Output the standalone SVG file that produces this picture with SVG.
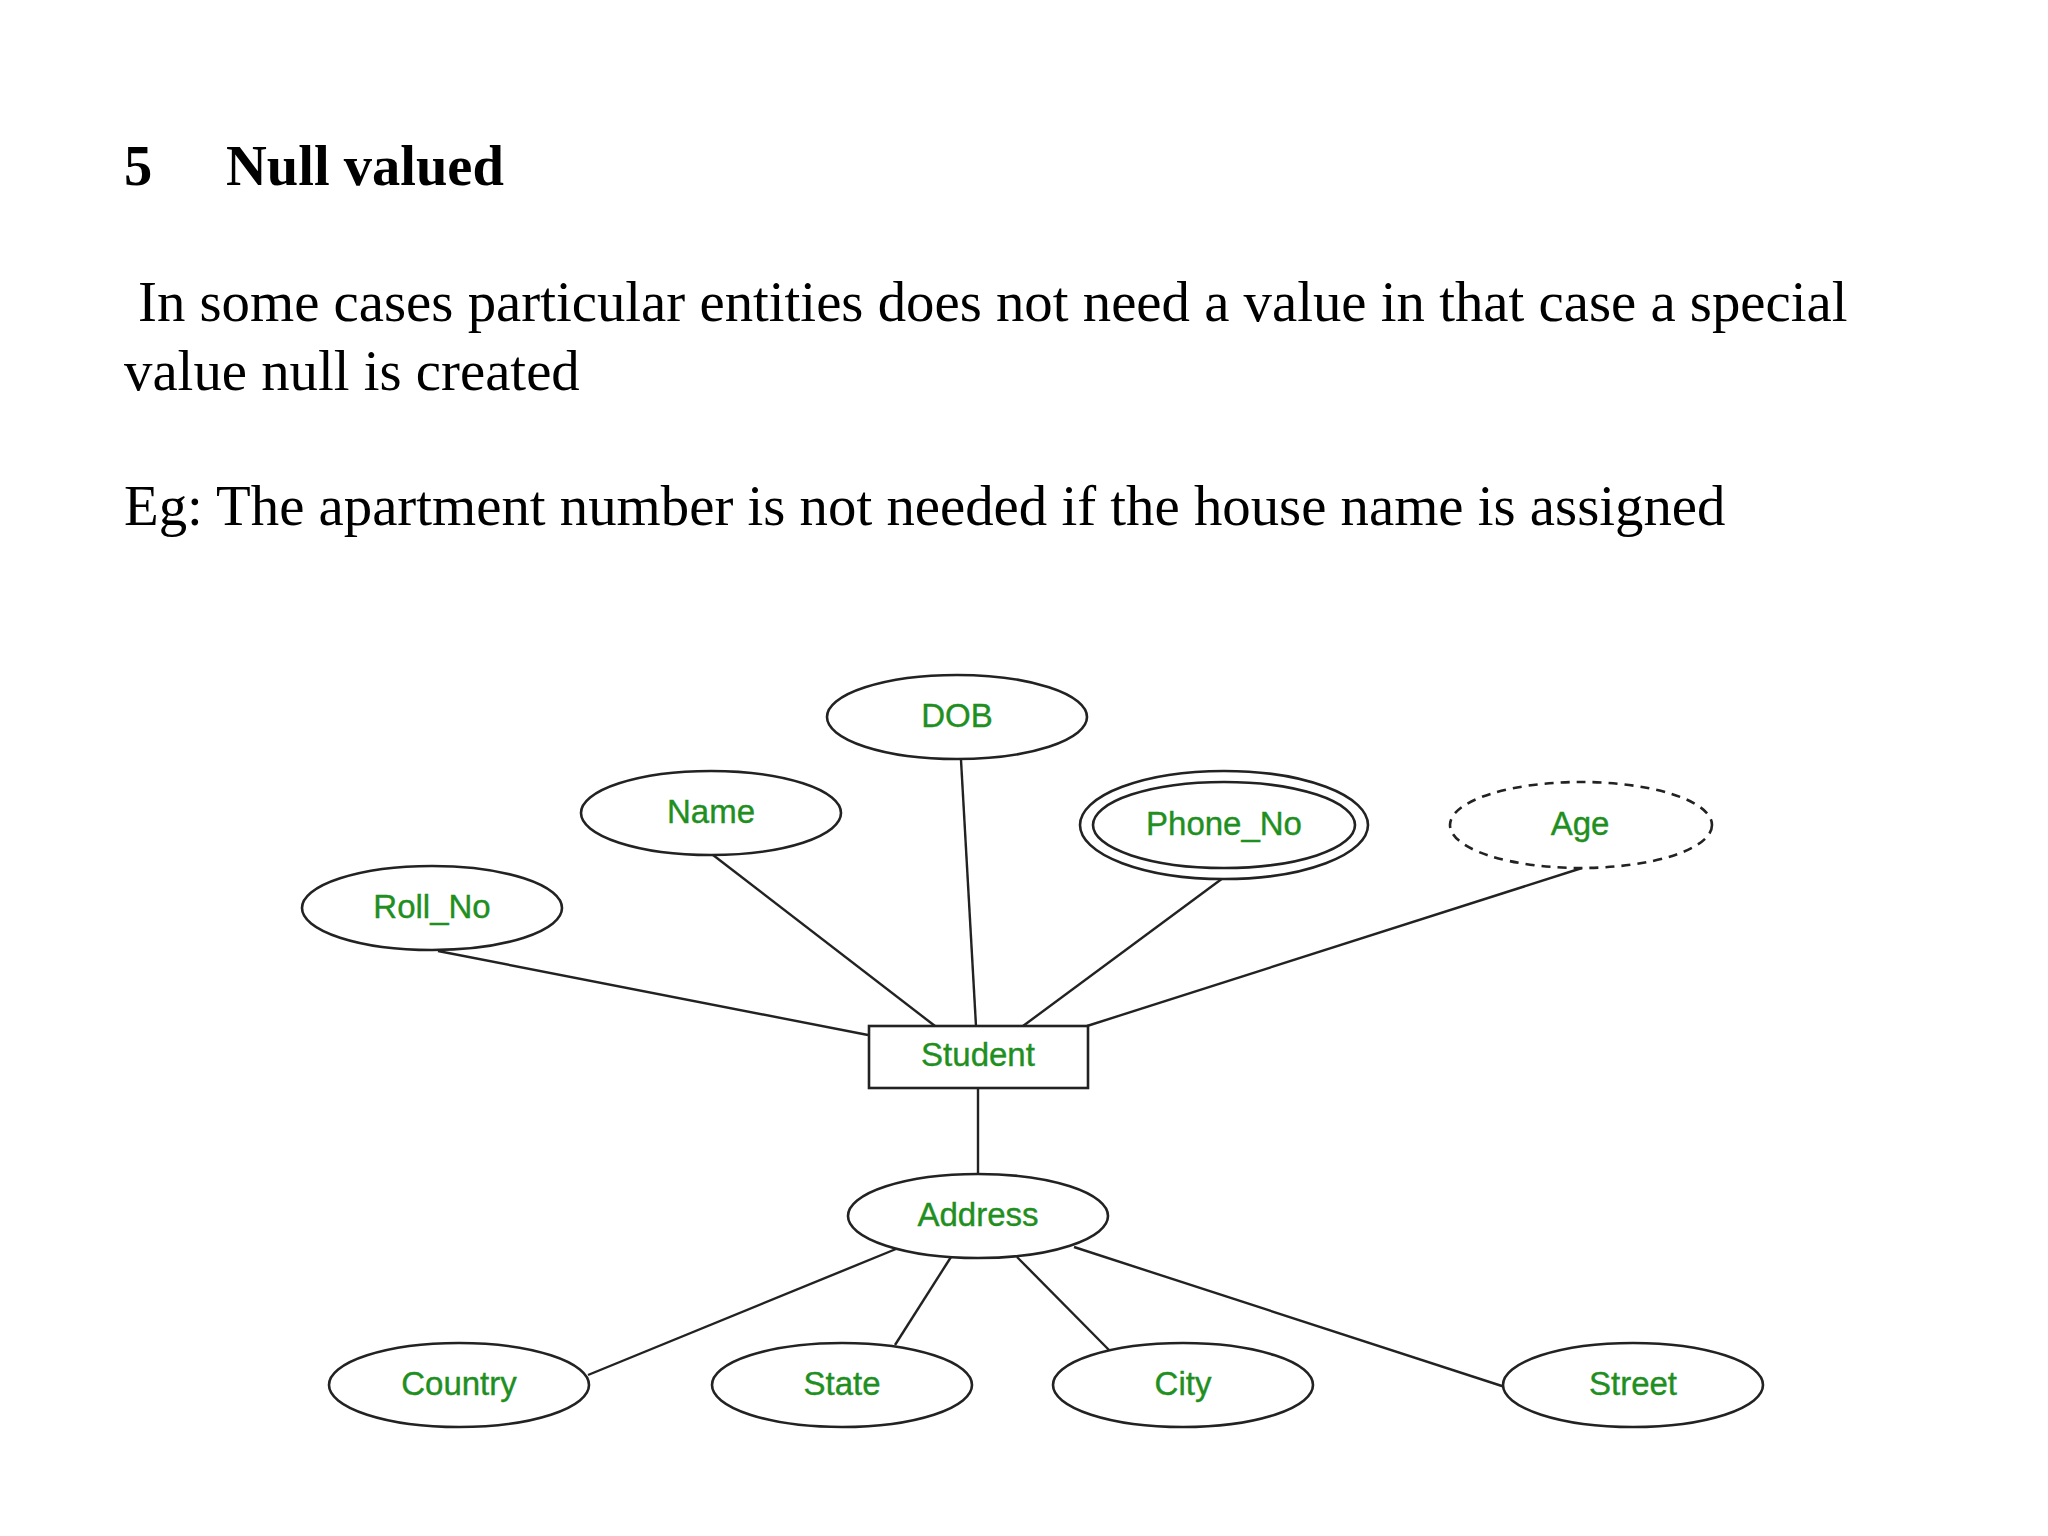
<svg xmlns="http://www.w3.org/2000/svg" width="2048" height="1536" viewBox="0 0 2048 1536">
<style>
.title{font-family:"Liberation Serif","Times New Roman",serif;font-size:56.5px;font-weight:bold;fill:#000}
.body{font-family:"Liberation Serif","Times New Roman",serif;font-size:56.8px;fill:#000}
.attr{fill:#fff;stroke:#222;stroke-width:2.6}
.lbl{font-family:"Liberation Sans",Arial,sans-serif;font-size:33px;fill:#1f8f1f;stroke:#1f8f1f;stroke-width:0.4;text-anchor:middle}
.conn line{stroke:#222;stroke-width:2.4}
</style>
<rect width="2048" height="1536" fill="#fff"/>
<g id="heading">
<text class="title" x="124" y="185">5</text>
<text class="title" x="226" y="185">Null valued</text>
</g>
<g id="paragraph">
<text class="body" x="138" y="321">In some cases particular entities does not need a value in that case a special</text>
<text class="body" x="124" y="390">value null is created</text>
<text class="body" x="124" y="525">Eg: The apartment number is not needed if the house name is assigned</text>
</g>
<g id="connectors" class="conn">
<line x1="438" y1="951" x2="868" y2="1035"/>
<line x1="713" y1="855" x2="935" y2="1026"/>
<line x1="961" y1="760" x2="976" y2="1026"/>
<line x1="1223" y1="878" x2="1023" y2="1026"/>
<line x1="1582" y1="868" x2="1087" y2="1026"/>
<line x1="978" y1="1089" x2="978" y2="1174"/>
<line x1="896" y1="1249" x2="588" y2="1375"/>
<line x1="951" y1="1257" x2="895" y2="1345"/>
<line x1="1017" y1="1257" x2="1109" y2="1350"/>
<line x1="1074" y1="1247" x2="1505" y2="1387"/>
</g>
<g id="node-dob"><ellipse class="attr" cx="957" cy="717" rx="130" ry="42"/><text class="lbl" x="957" y="727">DOB</text></g>
<g id="node-name"><ellipse class="attr" cx="711" cy="813" rx="130" ry="42"/><text class="lbl" x="711" y="823">Name</text></g>
<g id="node-rollno"><ellipse class="attr" cx="432" cy="908" rx="130" ry="42"/><text class="lbl" x="432" y="918">Roll_No</text></g>
<g id="node-phoneno"><ellipse class="attr" cx="1224" cy="825" rx="144" ry="54"/><ellipse class="attr" cx="1224" cy="825" rx="131" ry="43"/><text class="lbl" x="1224" y="835">Phone_No</text></g>
<g id="node-age"><ellipse class="attr" cx="1581" cy="825" rx="131" ry="43" stroke-dasharray="9,7"/><text class="lbl" x="1580" y="835">Age</text></g>
<g id="node-student"><rect x="869" y="1026" width="219" height="62" fill="#fff" stroke="#222" stroke-width="2.6"/><text class="lbl" x="978" y="1066">Student</text></g>
<g id="node-address"><ellipse class="attr" cx="978" cy="1216" rx="130" ry="42"/><text class="lbl" x="978" y="1226">Address</text></g>
<g id="node-country"><ellipse class="attr" cx="459" cy="1385" rx="130" ry="42"/><text class="lbl" x="459" y="1395">Country</text></g>
<g id="node-state"><ellipse class="attr" cx="842" cy="1385" rx="130" ry="42"/><text class="lbl" x="842" y="1395">State</text></g>
<g id="node-city"><ellipse class="attr" cx="1183" cy="1385" rx="130" ry="42"/><text class="lbl" x="1183" y="1395">City</text></g>
<g id="node-street"><ellipse class="attr" cx="1633" cy="1385" rx="130" ry="42"/><text class="lbl" x="1633" y="1395">Street</text></g>
</svg>
